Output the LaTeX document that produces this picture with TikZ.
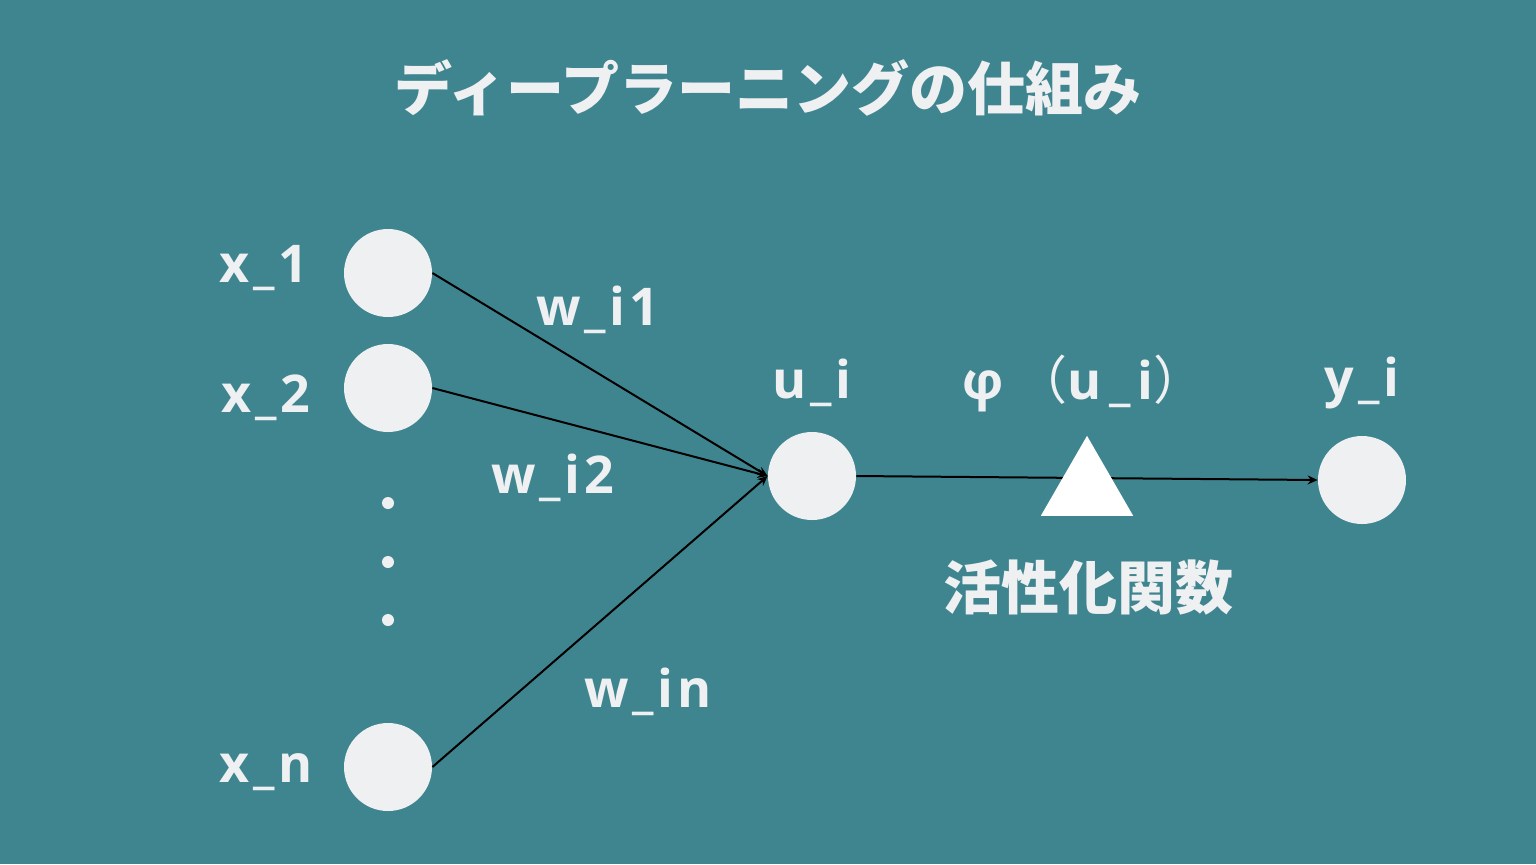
\documentclass[tikz,border=0pt]{standalone}
\usepackage{fontspec}
\setmainfont{Open Sans}
\newfontfamily\semi{Open Sans}[UprightFont={* Bold},LetterSpace=7]
\newfontfamily\semiw{Open Sans}[UprightFont={* Bold},LetterSpace=14]
\newfontfamily\cjk{Noto Sans CJK JP}
\usetikzlibrary{arrows.meta,shapes.geometric}
\definecolor{bg}{RGB}{63,133,144}
\definecolor{nd}{RGB}{239,240,242}
\begin{document}
\begin{tikzpicture}[x=0.5pt,y=-0.5pt,
  neuron/.style={circle,fill=nd,minimum size=44pt,inner sep=0pt},
  lbl/.style={text=nd,font=\semi\fontsize{26}{30}\selectfont,inner sep=0pt},
  tlbl/.style={text=nd,font=\cjk\bfseries\fontsize{29}{34}\selectfont,inner sep=0pt},
  jlbl/.style={text=nd,font=\cjk\bfseries\fontsize{29}{34}\selectfont,inner sep=0pt},
  conn/.style={line width=1pt,black,-{Stealth[length=5pt,width=4.5pt]}},
  actbox/.style={fill=white,isosceles triangle,isosceles triangle apex angle=60,shape border rotate=90,minimum height=40pt,inner sep=0pt}]
\fill[bg] (0,0) rectangle (1536,864);
\useasboundingbox (0,0) rectangle (1536,864);
\node[tlbl] (title) at (768,88) {ディープラーニングの仕組み};
\node[neuron] (x1) at (388,273) {};
\node[neuron] (x2) at (388,388) {};
\node[neuron] (xn) at (388,767) {};
\node[neuron] (u) at (812,476) {};
\node[neuron] (y) at (1362,480) {};
\node[lbl] (lx1) at (264,268) {x\_1};
\node[lbl] (lx2) at (266,398) {x\_2};
\node[lbl] (lxn) at (266,772) {x\_n};
\node[lbl] (lw1) at (598,310) {w\_i1};
\node[lbl] (lw2) at (553,478) {w\_i2};
\node[lbl] (lwn) at (648,692) {w\_in};
\node[lbl] (lu) at (812,383) {u\_i};
\node[lbl,font=\semiw\fontsize{26}{30}\selectfont] (lphi) at (1084,383) {φ\hspace{6pt}{\cjk （}u\_i{\cjk ）}};
\node[lbl] (ly) at (1362,383) {y\_i};
\node[jlbl] (lact) at (1088,588) {活性化関数};
\foreach \yy in {503,562,620}
  \fill[nd] (388,\yy) circle (3pt);
\draw[conn] (x1.east) -- (u.west);
\draw[conn] (x2.east) -- (u.west);
\draw[conn] (xn.east) -- (u.west);
\draw[conn] (u.east) -- (y.west);
\node[actbox,anchor=apex] (act) at (1087,435) {};
\end{tikzpicture}
\end{document}
